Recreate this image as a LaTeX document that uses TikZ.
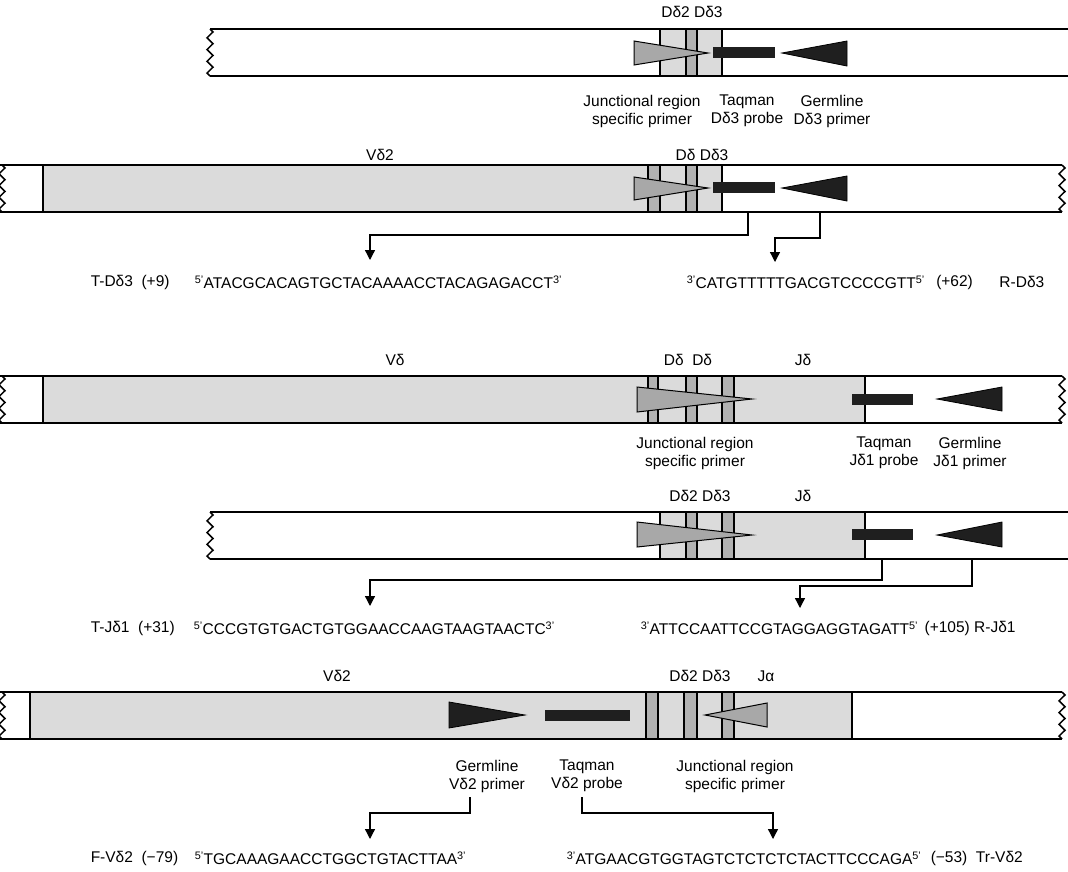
\documentclass[tikz,border=0pt]{standalone}
\usepackage{fontspec}
\setmainfont{Liberation Sans}
\usetikzlibrary{decorations.pathmorphing,arrows.meta}
\begin{document}
\begin{tikzpicture}[x=1pt,y=-1pt,line width=1.5pt,
  lt/.style={fill=gray!28},
  dk/.style={fill=gray!60,draw=black,line width=1.2pt},
  pr/.style={fill=gray!68,draw=black,line width=1pt},
  gl/.style={fill=black!88,draw=black,line width=0.8pt},
  pb/.style={fill=black!88},
  lab/.style={font=\fontsize{15.5}{18}\selectfont,align=center},
  seq/.style={font=\fontsize{15.5}{17}\selectfont,anchor=west,inner sep=0},
  zz/.style={decorate,decoration={zigzag,segment length=11.75pt,amplitude=3pt}},
  arr/.style={line width=1.3pt,-{Triangle[length=10pt,width=10pt]}}]
\useasboundingbox (0,0) rectangle (1068,871);
% ---------- Panel 1
\fill[lt] (660,29) rectangle (722,76);
\draw[dk] (686,29) rectangle (697,76);
\draw[line width=1.2pt] (660,29)--(660,76) (722,29)--(722,76);
\draw (210,29)--(1068,29) (210,76)--(1068,76);
\draw[zz] (210,29)--(210,76);
\draw[pr] (634,41)--(708,53)--(634,65)--cycle;
\fill[pb] (713,47) rectangle (775,58);
\draw[gl] (847,41)--(782,53)--(847,66)--cycle;
\node[lab] (l1) at (692,12) {Dδ2 Dδ3};
\node[lab] (j1) at (642,111) {Junctional region\\specific primer};
\node[lab] (t1) at (747,111) {Taqman\\Dδ3 probe};
\node[lab] (g1) at (832,111) {Germline\\Dδ3 primer};
% ---------- Panel 2
\fill[lt] (43,165) rectangle (722,212);
\draw[dk] (648,165) rectangle (660,212);
\draw[dk] (686,165) rectangle (697,212);
\draw[line width=1.2pt] (43,165)--(43,212) (722,165)--(722,212);
\draw (0,165)--(1062,165) (0,212)--(1062,212);
\draw[zz] (2,165)--(2,212);
\draw[zz] (1062,165)--(1062,212);
\draw[pr] (634,177)--(708,188)--(634,200)--cycle;
\fill[pb] (713,182) rectangle (775,193);
\draw[gl] (847,176)--(782,188)--(847,201)--cycle;
\node[lab] (v2) at (380,155) {Vδ2};
\node[lab] (l2) at (702,155) {Dδ Dδ3};
\coordinate (a1) at (748,212); \coordinate (a1e) at (370,260);
\coordinate (a2) at (820,212); \coordinate (a2e) at (775,262);
\draw[arr] (a1)--(a1|-0,235)--(a1e|-0,235)--(a1e);
\draw[arr] (a2)--(a2|-0,238)--(a2e|-0,238)--(a2e);
\node[seq] (n1) at (90,282) {T-Dδ3\ \ (+9)};
\node[seq] (s1) at (194,282) {\textsuperscript{5'}ATACGCACAGTGCTACAAAACCTACAGAGACCT\textsuperscript{3'}};
\node[seq] (s2) at (686,282) {\textsuperscript{3'}CATGTTTTTGACGTCCCCGTT\textsuperscript{5'}};
\node[seq,anchor=west] (p2) at ([xshift=10pt]s2.east) {(+62)};
\node[seq,anchor=east] (n2) at (1045,282) {R-Dδ3};
% ---------- Panel 3
\fill[lt] (43,376) rectangle (865,423);
\draw[dk] (648,376) rectangle (658,423);
\draw[dk] (686,376) rectangle (697,423);
\draw[dk] (722,376) rectangle (734,423);
\draw[line width=1.2pt] (43,376)--(43,423) (865,376)--(865,423);
\draw (0,376)--(1062,376) (0,423)--(1062,423);
\draw[zz] (2,376)--(2,423);
\draw[zz] (1062,376)--(1062,423);
\draw[pr] (637,387)--(752,399)--(637,412)--cycle;
\fill[pb] (852,394) rectangle (913,405);
\draw[gl] (1002,387)--(937,399)--(1002,411)--cycle;
\node[lab] (v3) at (395,360) {Vδ};
\node[lab] (l3) at (688,360) {Dδ\ \ Dδ};
\node[lab] (jd3) at (803,360) {Jδ};
\node[lab] (j3) at (695,453) {Junctional region\\specific primer};
\node[lab] (t3) at (884,453) {Taqman\\Jδ1 probe};
\node[lab] (g3) at (970,453) {Germline\\Jδ1 primer};
% ---------- Panel 4
\fill[lt] (660,512) rectangle (865,559);
\draw[dk] (686,512) rectangle (697,559);
\draw[dk] (722,512) rectangle (734,559);
\draw[line width=1.2pt] (660,512)--(660,559) (865,512)--(865,559);
\draw (210,512)--(1068,512) (210,559)--(1068,559);
\draw[zz] (210,512)--(210,559);
\draw[pr] (637,522)--(752,535)--(637,547)--cycle;
\fill[pb] (852,529) rectangle (913,540);
\draw[gl] (1002,522)--(937,535)--(1002,547)--cycle;
\node[lab] (l4) at (700,496) {Dδ2 Dδ3};
\node[lab] (jd4) at (803,496) {Jδ};
\coordinate (b1) at (882,559); \coordinate (b1e) at (370,606);
\coordinate (b2) at (972,559); \coordinate (b2e) at (800,608);
\draw[arr] (b1)--(b1|-0,580)--(b1e|-0,580)--(b1e);
\draw[arr] (b2)--(b2|-0,586)--(b2e|-0,586)--(b2e);
\node[seq] (n3) at (90,628) {T-Jδ1\ \ (+31)};
\node[seq] (s3) at (193,628) {\textsuperscript{5'}CCCGTGTGACTGTGGAACCAAGTAAGTAACTC\textsuperscript{3'}};
\node[seq] (s4) at (640,628) {\textsuperscript{3'}ATTCCAATTCCGTAGGAGGTAGATT\textsuperscript{5'}};
\node[seq,anchor=west] (n4) at ([xshift=5pt]s4.east) {(+105) R-Jδ1};
% ---------- Panel 5
\fill[lt] (30,692) rectangle (852,739);
\draw[dk] (646,692) rectangle (658,739);
\draw[dk] (684,692) rectangle (697,739);
\draw[dk] (722,692) rectangle (734,739);
\draw[line width=1.2pt] (30,692)--(30,739) (852,692)--(852,739);
\draw (0,692)--(1062,692) (0,739)--(1062,739);
\draw[line width=2.5pt] (722,739)--(852,739);
\draw[zz] (2,692)--(2,739);
\draw[zz] (1062,692)--(1062,739);
\draw[gl] (449,702)--(525,715)--(449,728)--cycle;
\fill[pb] (545,710) rectangle (630,721);
\draw[pr] (767,703)--(705,715)--(767,727)--cycle;
\node[lab] (v5) at (337,676) {Vδ2};
\node[lab] (l5) at (700,676) {Dδ2 Dδ3};
\node[lab] (ja5) at (766,676) {Jα};
\node[lab] (g5) at (487,776) {Germline\\Vδ2 primer};
\node[lab] (t5) at (587,776) {Taqman\\Vδ2 probe};
\node[lab] (j5) at (735,776) {Junctional region\\specific primer};
\coordinate (c1) at (470,797); \coordinate (c1e) at (370,839);
\coordinate (c2) at (582,797); \coordinate (c2e) at (773,839);
\draw[arr] (c1)--(c1|-0,813)--(c1e|-0,813)--(c1e);
\draw[arr] (c2)--(c2|-0,813)--(c2e|-0,813)--(c2e);
\node[seq] (n5) at (90,858) {F-Vδ2\ \ (−79)};
\node[seq] (s5) at (194,858) {\textsuperscript{5'}TGCAAAGAACCTGGCTGTACTTAA\textsuperscript{3'}};
\node[seq] (s6) at (566,858) {\textsuperscript{3'}ATGAACGTGGTAGTCTCTCTCTACTTCCCAGA\textsuperscript{5'}};
\node[seq] (n6) at (930,858) {(−53)\ \ Tr-Vδ2};
\end{tikzpicture}
\end{document}
